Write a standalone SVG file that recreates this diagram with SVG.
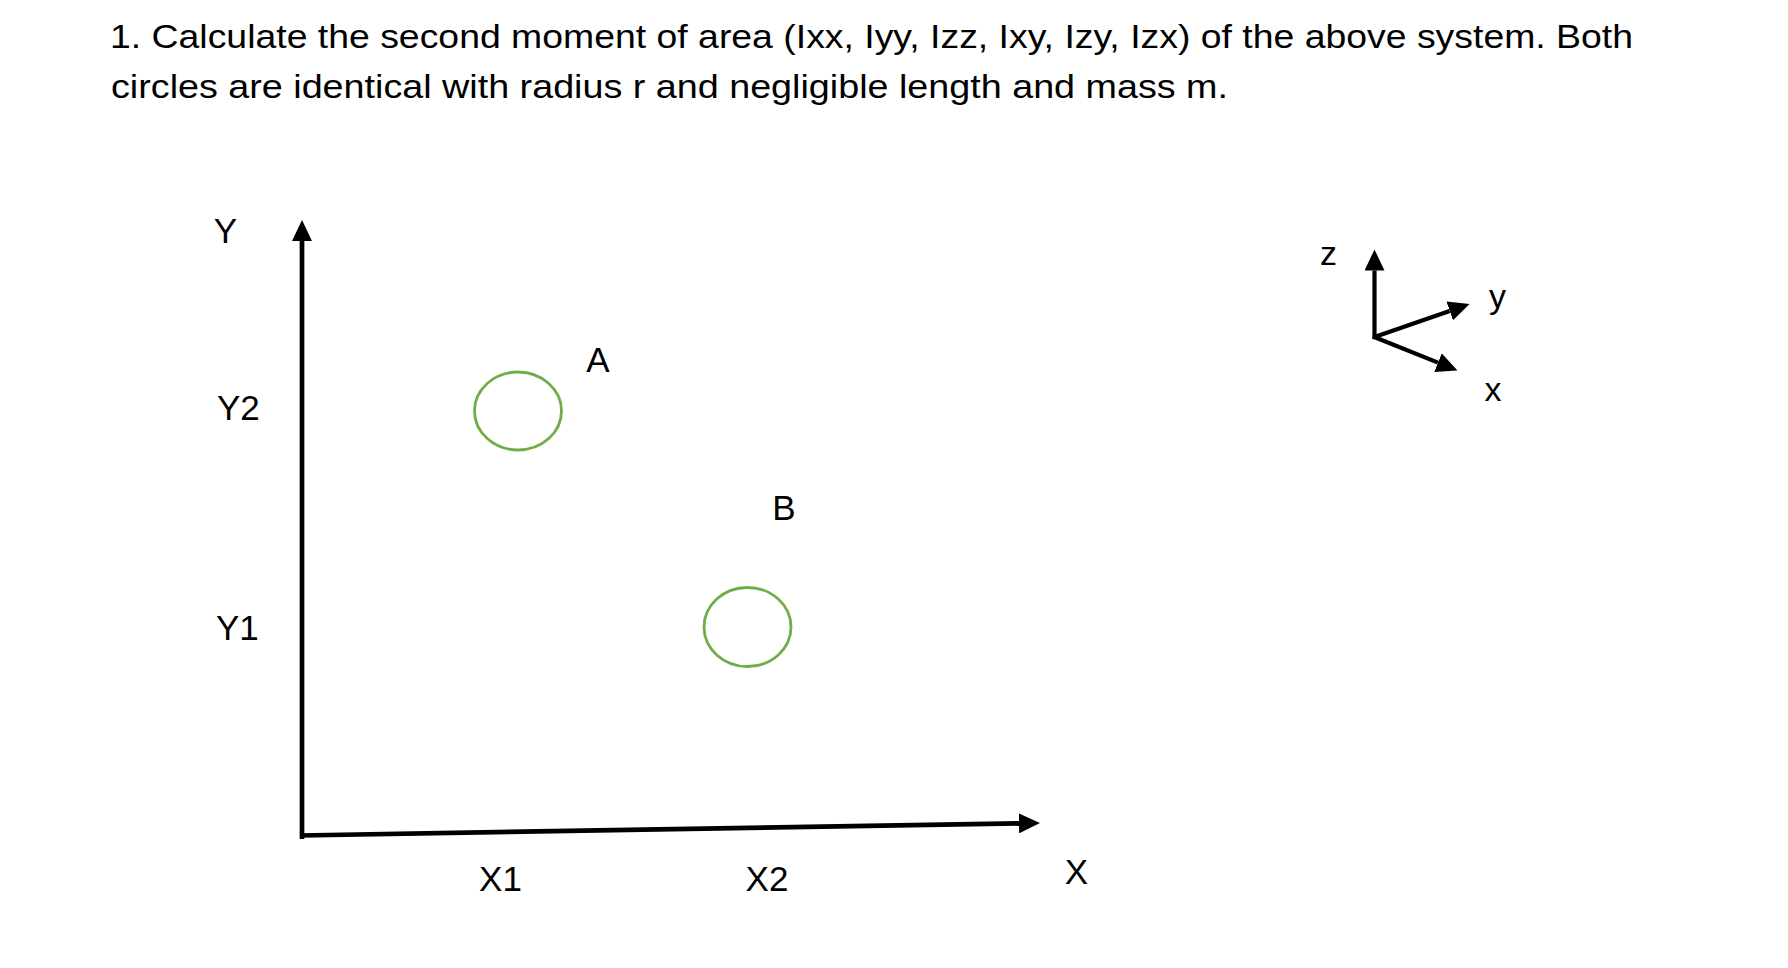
<svg xmlns="http://www.w3.org/2000/svg" width="1788" height="968" viewBox="0 0 1788 968">
  <defs>
    <style>
      .title { font-family: "Liberation Sans", Arial, sans-serif; font-size: 34px; fill: #000; }
      .lbl { font-family: "Liberation Sans", Arial, sans-serif; font-size: 35px; fill: #000; }
      .lbls { font-family: "Liberation Sans", Arial, sans-serif; font-size: 34px; fill: #000; }
      .axis { stroke: #000; stroke-width: 4.7; fill: none; marker-end: url(#head); }
      .axis-s { stroke: #000; stroke-width: 4.2; fill: none; marker-end: url(#head); }
      .ring { fill: none; stroke: #70AD47; stroke-width: 2.8; }
    </style>
    <marker id="head" markerUnits="userSpaceOnUse" markerWidth="21" markerHeight="20" refX="0" refY="10" orient="auto">
      <path d="M0,0 L21,10 L0,20 Z" fill="#000"/>
    </marker>
  </defs>
  <rect width="1788" height="968" fill="#fff"/>

  <g id="title">
    <text class="title" x="110" y="48" textLength="1523" lengthAdjust="spacingAndGlyphs">1. Calculate the second moment of area (Ixx, Iyy, Izz, Ixy, Izy, Izx) of the above system. Both</text>
    <text class="title" x="111" y="98" textLength="1117" lengthAdjust="spacingAndGlyphs">circles are identical with radius r and negligible length and mass m.</text>
  </g>

  <g id="connectors">
    <line class="axis" x1="302" y1="839" x2="302" y2="241"/>
    <line class="axis" x1="300" y1="835.5" x2="1019" y2="823.3"/>
    <line class="axis-s" x1="1374.5" y1="339" x2="1374.5" y2="270.5"/>
    <line class="axis-s" x1="1373" y1="337.5" x2="1449.7" y2="310.9"/>
    <line class="axis-s" x1="1373" y1="336.5" x2="1438" y2="362.6"/>
  </g>

  <g id="circle-A">
    <ellipse class="ring" cx="518" cy="411" rx="43.5" ry="39"/>
    <text class="lbl" x="598" y="372" text-anchor="middle">A</text>
  </g>
  <g id="circle-B">
    <ellipse class="ring" cx="747.5" cy="627" rx="43.5" ry="39.5"/>
    <text class="lbl" x="784" y="520" text-anchor="middle">B</text>
  </g>

  <g id="axis-labels">
    <text class="lbl" x="225.5" y="243" text-anchor="middle">Y</text>
    <text class="lbl" x="217" y="420">Y2</text>
    <text class="lbl" x="216" y="640">Y1</text>
    <text class="lbl" x="500.5" y="891" text-anchor="middle">X1</text>
    <text class="lbl" x="767" y="891" text-anchor="middle">X2</text>
    <text class="lbl" x="1076.5" y="884" text-anchor="middle">X</text>
  </g>

  <g id="triad-labels">
    <text class="lbls" x="1328.5" y="265" text-anchor="middle">z</text>
    <text class="lbls" x="1497.5" y="308" text-anchor="middle">y</text>
    <text class="lbls" x="1493" y="401" text-anchor="middle">x</text>
  </g>
</svg>
